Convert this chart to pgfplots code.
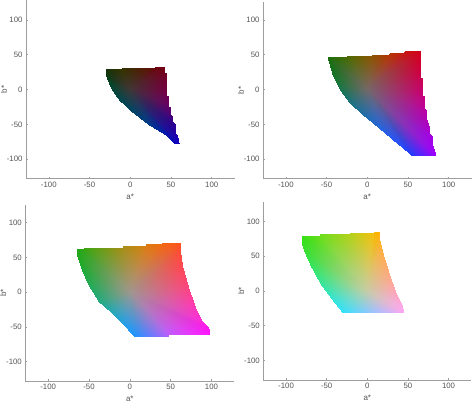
\documentclass[border=0pt]{standalone}
\usepackage{pgfplots}
\usepackage{pgfplotstable}
\usepgfplotslibrary{patchplots}
\pgfplotsset{compat=1.18}
\usepackage{fontspec}
\setmainfont{Liberation Sans}
\definecolor{axl}{gray}{0.62}
\definecolor{txt}{gray}{0.33}
\pgfplotsset{table/row sep=crcr}
\pgfplotsset{panel/.style={
  scale only axis, axis x line=bottom, axis y line=left,
  axis line style={-,draw=axl,line width=1pt},
  major tick style={draw=axl,line width=0.6pt}, major tick length=2pt, tick align=inside,
  xmin=-128,xmax=128,ymin=-128,ymax=128,
  xtick={-100,-50,0,50,100}, ytick={-100,-50,0,50,100},
  ticklabel style={font=\fontsize{7.8}{8}\selectfont,text=txt},
  /pgf/number format/assume math mode=true,
  xlabel={a*}, ylabel={b*},
  label style={font=\fontsize{8}{9}\selectfont,text=txt},
  xlabel shift=-1pt, ylabel shift=-7pt,
  anchor=south west,
  clip=false,
}}
\pgfplotsset{gam/.style={patch, patch type=triangle, shader=interp, mesh/color input=explicit}}
\begin{document}
\begin{tikzpicture}[x=1pt,y=1pt]
\useasboundingbox (0pt,0pt) rectangle (474pt,-404pt);

\begin{axis}[panel,at={(26pt,-178.7pt)},width=208.5pt,height=178.4pt]
\addplot[gam,patch table={0 1 2\\0 2 3\\0 3 4\\0 4 5\\0 5 6\\0 6 7\\0 7 8\\0 8 9\\0 9 10\\0 10 11\\0 11 12\\0 12 13\\0 13 14\\0 14 15\\0 15 16\\0 16 17\\0 17 18\\0 18 19\\0 19 20\\0 20 21\\0 21 22\\0 22 23\\0 23 24\\0 24 25\\0 25 26\\0 26 27\\0 27 1\\}] table[meta=c]{
x y c\\
0 0 rgb=0.25,0.21,0.21\\
-29 28 rgb=0.08,0.2,0.03\\
-10 28 rgb=0.2,0.2,0.0\\
-10 29.5 rgb=0.2,0.2,0.0\\
32.6 29.5 rgb=0.4,0.05,0.03\\
32.6 32 rgb=0.42,0.0,0.05\\
42 32 rgb=0.45,0,0.07\\
42 22.5 rgb=0.45,0,0.12\\
44.4 22.5 rgb=0.45,0,0.14\\
44.4 -10 rgb=0.45,0,0.3\\
46.5 -10 rgb=0.44,0,0.32\\
46.5 -26 rgb=0.4,0,0.4\\
49 -26 rgb=0.38,0,0.42\\
49 -39 rgb=0.3,0,0.48\\
52 -39 rgb=0.28,0,0.5\\
52 -51 rgb=0.2,0,0.56\\
56 -51 rgb=0.18,0,0.58\\
56 -67 rgb=0.12,0,0.66\\
58 -67 rgb=0.1,0,0.68\\
60 -78 rgb=0.08,0,0.75\\
56 -78 rgb=0.05,0.02,0.75\\
44 -65 rgb=0,0.1,0.68\\
24 -51 rgb=0,0.22,0.55\\
3 -32 rgb=0,0.27,0.4\\
-13 -15 rgb=0,0.28,0.3\\
-23 2 rgb=0,0.28,0.2\\
-27 14 rgb=0,0.26,0.12\\
-29 20 rgb=0.03,0.23,0.06\\
};
\end{axis}

\begin{axis}[panel,at={(263pt,-178.7pt)},width=208.5pt,height=176.7pt,ymax=125.6]
\addplot[gam,patch table={0 1 2\\0 2 3\\0 3 4\\0 4 5\\0 5 6\\0 6 7\\0 7 8\\0 8 9\\0 9 10\\0 10 11\\0 11 12\\0 12 13\\0 13 14\\0 14 15\\0 15 16\\0 16 17\\0 17 18\\0 18 19\\0 19 20\\0 20 21\\0 21 22\\0 22 23\\0 23 24\\0 24 25\\0 25 26\\0 26 27\\0 27 28\\0 28 29\\0 29 30\\0 30 31\\0 31 32\\0 32 33\\0 33 1\\}] table[meta=c]{
x y c\\
0 0 rgb=0.45,0.41,0.4\\
-47.7 45.5 rgb=0.1,0.43,0.05\\
-24 45.5 rgb=0.28,0.42,0.02\\
-24 47.8 rgb=0.3,0.42,0\\
6.5 47.8 rgb=0.55,0.33,0\\
6.5 49 rgb=0.55,0.33,0\\
28.5 49 rgb=0.7,0.2,0\\
28.5 51 rgb=0.72,0.2,0\\
47 52 rgb=0.78,0.1,0.05\\
47 54 rgb=0.8,0.08,0.05\\
65.5 54 rgb=0.83,0,0.1\\
65.5 16 rgb=0.8,0,0.3\\
68.4 16 rgb=0.8,0,0.32\\
68.4 -10.5 rgb=0.78,0,0.47\\
70.5 -10.5 rgb=0.78,0,0.49\\
70.5 -30 rgb=0.75,0,0.62\\
73 -30 rgb=0.74,0,0.64\\
73 -44 rgb=0.7,0,0.72\\
76.6 -55 rgb=0.68,0,0.78\\
76.6 -68 rgb=0.66,0,0.87\\
80.6 -68 rgb=0.65,0,0.89\\
80.6 -81 rgb=0.63,0,0.95\\
84 -93 rgb=0.62,0,1\\
84 -95 rgb=0.62,0,1\\
55 -95 rgb=0.15,0.22,1\\
45 -84 rgb=0.15,0.28,1\\
36 -76 rgb=0.16,0.32,0.96\\
15 -55 rgb=0.14,0.4,0.86\\
-3 -38 rgb=0.12,0.43,0.67\\
-21 -19 rgb=0.1,0.45,0.5\\
-33 0 rgb=0.08,0.46,0.3\\
-38 12 rgb=0.08,0.46,0.2\\
-41.5 20 rgb=0.07,0.46,0.15\\
-45.6 36 rgb=0.07,0.44,0.08\\
};
\end{axis}

\begin{axis}[panel,at={(25.3pt,-381pt)},width=209pt,height=176.3pt,ymax=126]
\addplot[gam,patch table={0 1 2\\0 2 3\\0 3 4\\0 4 5\\0 5 6\\0 6 7\\0 7 8\\0 8 9\\0 9 10\\0 10 11\\0 11 12\\0 12 13\\0 13 14\\0 14 15\\0 15 16\\0 16 17\\0 17 18\\0 18 19\\0 19 20\\0 20 21\\0 21 22\\0 22 23\\0 23 24\\0 24 25\\0 25 26\\0 26 27\\0 27 1\\}] table[meta=c]{
x y c\\
0 0 rgb=0.62,0.59,0.55\\
-64 62 rgb=0.12,0.66,0.08\\
-41.5 62.5 rgb=0.35,0.63,0.08\\
-41.5 63.5 rgb=0.35,0.63,0.08\\
-8 63.5 rgb=0.65,0.56,0.08\\
-8 66 rgb=0.65,0.56,0.08\\
20.7 66 rgb=0.85,0.5,0.06\\
20.7 68 rgb=0.87,0.48,0.06\\
40.6 68 rgb=0.95,0.42,0.06\\
40.6 70 rgb=0.96,0.4,0.06\\
62 70 rgb=1,0.33,0.1\\
62 58.6 rgb=1,0.3,0.2\\
65 35 rgb=1,0.28,0.33\\
72 6 rgb=1,0.27,0.5\\
80.5 -23 rgb=1,0.22,0.72\\
88.6 -42 rgb=1,0.17,0.85\\
97.6 -54 rgb=1,0.08,0.95\\
97.6 -61.5 rgb=1,0.08,1\\
75 -61.5 rgb=0.92,0.2,1\\
48 -61.5 rgb=0.75,0.35,1\\
48 -64 rgb=0.72,0.37,1\\
6.5 -64 rgb=0.12,0.58,1\\
-5 -49.5 rgb=0.13,0.62,0.94\\
-21 -30 rgb=0.14,0.66,0.74\\
-37.4 -13.5 rgb=0.13,0.67,0.5\\
-50 10.6 rgb=0.12,0.67,0.33\\
-58 32 rgb=0.1,0.67,0.2\\
-64 54 rgb=0.12,0.66,0.1\\
};
\end{axis}

\begin{axis}[panel,at={(263.3pt,-380pt)},width=208pt,height=178pt]
\addplot[gam,patch table={0 1 2\\0 2 3\\0 3 4\\0 4 5\\0 5 6\\0 6 7\\0 7 8\\0 8 9\\0 9 10\\0 10 11\\0 11 12\\0 12 13\\0 13 14\\0 14 15\\0 15 16\\0 16 17\\0 17 18\\0 18 19\\0 19 20\\0 20 21\\0 21 22\\0 22 1\\}] table[meta=c]{
x y c\\
0 0 rgb=0.78,0.8,0.65\\
-80 78 rgb=0.2,0.88,0.08\\
-57.5 78 rgb=0.4,0.87,0.1\\
-57.5 80.8 rgb=0.42,0.87,0.1\\
-21 80.8 rgb=0.7,0.82,0.1\\
-21 82 rgb=0.7,0.82,0.1\\
9.5 82 rgb=0.97,0.75,0.05\\
9.5 84 rgb=0.98,0.72,0\\
15 84.5 rgb=1,0.7,0\\
15.6 71 rgb=1,0.7,0.15\\
19.7 52 rgb=1,0.68,0.3\\
28 20.7 rgb=1,0.66,0.52\\
36 -5.8 rgb=1,0.65,0.75\\
43.5 -22.6 rgb=1,0.65,0.92\\
44.4 -30.8 rgb=1,0.65,0.95\\
10 -31 rgb=0.65,0.75,1\\
-29.5 -31.3 rgb=0.2,0.88,1\\
-42 -13 rgb=0.2,0.9,0.85\\
-56 8.6 rgb=0.2,0.9,0.62\\
-68.4 35 rgb=0.2,0.9,0.38\\
-76.7 56.7 rgb=0.2,0.88,0.2\\
-80 69 rgb=0.2,0.88,0.12\\
-80 74 rgb=0.2,0.88,0.1\\
};
\end{axis}
\end{tikzpicture}
\end{document}
